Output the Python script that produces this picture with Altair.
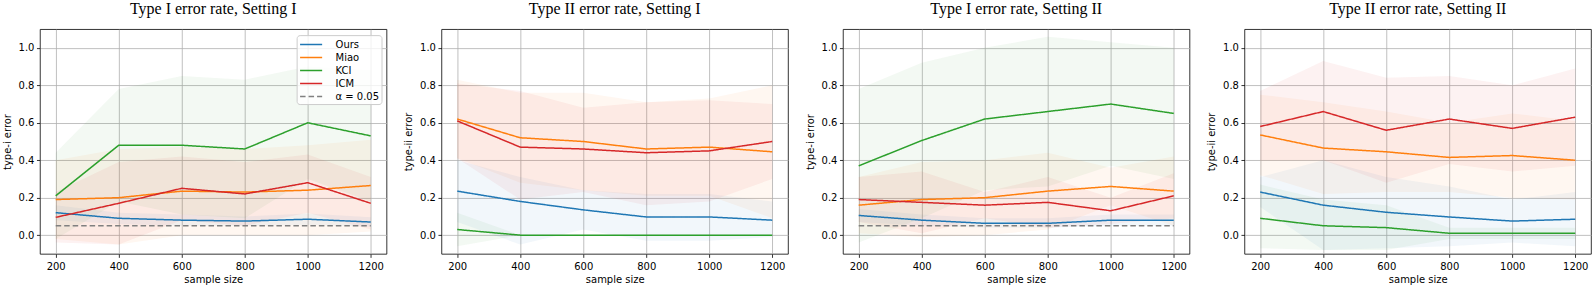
import altair as alt
import pandas as pd

sizes = [200, 400, 600, 800, 1000, 1200]
methods = ["Ours", "Miao", "KCI", "ICM"]
alpha_label = "α = 0.05"
alpha_level = 0.05
legend_domain = methods + [alpha_label]
colors = ["#1f77b4", "#ff7f0e", "#2ca02c", "#d62728", "#808080"]
dashes = [[1, 0], [1, 0], [1, 0], [1, 0], [5.5, 3]]
y_ticks = [0.0, 0.2, 0.4, 0.6, 0.8, 1.0]

titles = ["Type I error rate, Setting I", "Type II error rate, Setting I",
          "Type I error rate, Setting II", "Type II error rate, Setting II"]
ylabels = ["type-i error", "type-ii error", "type-i error", "type-ii error"]
show_alpha = [True, False, True, False]

p1_mean = {"Ours": [0.12, 0.09, 0.08, 0.075, 0.085, 0.07],
           "Miao": [0.19, 0.20, 0.235, 0.23, 0.24, 0.265],
           "KCI": [0.21, 0.48, 0.48, 0.46, 0.60, 0.53],
           "ICM": [0.095, 0.17, 0.25, 0.22, 0.28, 0.17]}
p1_lo = {"Ours": [0.08, 0.06, 0.05, 0.05, 0.055, 0.045],
         "Miao": [-0.02, -0.05, 0.0, 0.0, 0.0, 0.02],
         "KCI": [-0.02, 0.18, 0.11, 0.09, 0.30, 0.18],
         "ICM": [-0.04, -0.05, 0.08, 0.05, 0.12, 0.03]}
p1_hi = {"Ours": [0.16, 0.12, 0.11, 0.10, 0.115, 0.095],
         "Miao": [0.40, 0.46, 0.47, 0.46, 0.48, 0.51],
         "KCI": [0.44, 0.78, 0.85, 0.83, 0.90, 0.88],
         "ICM": [0.23, 0.39, 0.42, 0.39, 0.43, 0.31]}

p2_mean = {"Ours": [0.235, 0.18, 0.135, 0.097, 0.097, 0.08],
           "Miao": [0.62, 0.52, 0.50, 0.46, 0.47, 0.445],
           "KCI": [0.03, 0.0, 0.0, 0.0, 0.0, 0.0],
           "ICM": [0.61, 0.47, 0.46, 0.44, 0.45, 0.50]}
p2_lo = {"Ours": [0.07, -0.05, 0.03, -0.03, -0.03, -0.01],
         "Miao": [0.41, 0.28, 0.24, 0.21, 0.21, 0.09],
         "KCI": [-0.06, 0.0, 0.0, 0.0, 0.0, 0.0],
         "ICM": [0.41, 0.19, 0.23, 0.16, 0.18, 0.30]}
p2_hi = {"Ours": [0.40, 0.31, 0.24, 0.22, 0.22, 0.18],
         "Miao": [0.83, 0.76, 0.76, 0.71, 0.73, 0.80],
         "KCI": [0.12, 0.0, 0.0, 0.0, 0.0, 0.0],
         "ICM": [0.81, 0.77, 0.68, 0.71, 0.72, 0.70]}

p3_mean = {"Ours": [0.105, 0.08, 0.063, 0.063, 0.08, 0.08],
           "Miao": [0.16, 0.19, 0.20, 0.235, 0.26, 0.235],
           "KCI": [0.37, 0.505, 0.62, 0.66, 0.70, 0.65],
           "ICM": [0.19, 0.175, 0.16, 0.175, 0.13, 0.21]}
p3_lo = {"Ours": [0.07, 0.05, 0.04, 0.04, 0.05, 0.05],
         "Miao": [0.01, -0.01, 0.0, 0.03, 0.16, 0.05],
         "KCI": [-0.04, 0.09, 0.24, 0.26, 0.37, 0.30],
         "ICM": [0.07, 0.01, 0.09, 0.04, 0.06, 0.09]}
p3_hi = {"Ours": [0.14, 0.11, 0.09, 0.09, 0.11, 0.11],
         "Miao": [0.31, 0.39, 0.40, 0.44, 0.36, 0.42],
         "KCI": [0.78, 0.92, 1.0, 1.06, 1.03, 1.0],
         "ICM": [0.31, 0.34, 0.23, 0.31, 0.20, 0.33]}

p4_mean = {"Ours": [0.23, 0.16, 0.122, 0.097, 0.075, 0.085],
           "Miao": [0.535, 0.465, 0.445, 0.415, 0.425, 0.40],
           "KCI": [0.09, 0.05, 0.04, 0.01, 0.01, 0.01],
           "ICM": [0.58, 0.66, 0.56, 0.62, 0.57, 0.63]}
p4_lo = {"Ours": [0.15, -0.08, -0.07, -0.06, -0.04, -0.06],
         "Miao": [0.32, 0.22, 0.23, 0.23, 0.20, 0.19],
         "KCI": [-0.07, -0.08, -0.08, -0.02, -0.02, -0.02],
         "ICM": [0.40, 0.40, 0.28, 0.38, 0.34, 0.37]}
p4_hi = {"Ours": [0.31, 0.40, 0.31, 0.26, 0.19, 0.23],
         "Miao": [0.75, 0.71, 0.66, 0.60, 0.65, 0.61],
         "KCI": [0.27, 0.19, 0.16, 0.04, 0.04, 0.04],
         "ICM": [0.77, 0.93, 0.84, 0.85, 0.80, 0.89]}

all_means = [p1_mean, p2_mean, p3_mean, p4_mean]
all_lo = [p1_lo, p2_lo, p3_lo, p4_lo]
all_hi = [p1_hi, p2_hi, p3_hi, p4_hi]

FONT = "DejaVu Sans"

legend_spec = alt.Legend(title=None, orient="top-right", offset=5.5,
                         symbolType="M-1.7,0H1.7", symbolSize=169,
                         symbolOffset=5, symbolStrokeWidth=1.5, symbolOpacity=1,
                         labelOffset=17, labelAlign="left",
                         rowPadding=0, padding=2, strokeColor="#cccccc",
                         fillColor="rgba(255,255,255,0.8)", cornerRadius=3,
                         labelFont=FONT, labelFontSize=10, labelColor="black",
                         labelLimit=200)


def make_panel(k):
    band_rows, line_rows = [], []
    for m in methods:
        for i, s in enumerate(sizes):
            band_rows.append({"size": s, "method": m,
                              "lo": all_lo[k][m][i], "hi": all_hi[k][m][i]})
            line_rows.append({"size": s, "method": m, "val": all_means[k][m][i]})
    if show_alpha[k]:
        for s in sizes:
            line_rows.append({"size": s, "method": alpha_label, "val": alpha_level})
    bdf = pd.DataFrame(band_rows)
    ldf = pd.DataFrame(line_rows)

    xenc = alt.X("size:Q",
                 scale=alt.Scale(domain=[150, 1250], nice=False, zero=False),
                 axis=alt.Axis(values=sizes, format="d", title="sample size"))
    yscale = alt.Scale(domain=[-0.1, 1.1], nice=False, zero=False)
    yaxis = alt.Axis(values=y_ticks, format=".1f", title=ylabels[k])
    cscale = alt.Scale(domain=legend_domain, range=colors)
    dscale = alt.Scale(domain=legend_domain, range=dashes)
    leg = legend_spec if k == 0 else None

    bands = alt.Chart(bdf).mark_area(fillOpacity=0.06).encode(
        x=xenc,
        y=alt.Y("lo:Q", scale=yscale, axis=yaxis),
        y2="hi:Q",
        color=alt.Color("method:N", scale=cscale, legend=leg),
    )
    lines = alt.Chart(ldf).mark_line(strokeWidth=1.5).encode(
        x=xenc,
        y=alt.Y("val:Q", scale=yscale, axis=yaxis),
        color=alt.Color("method:N", scale=cscale, legend=leg),
        strokeDash=alt.StrokeDash("method:N", scale=dscale, legend=leg),
    )
    return alt.layer(bands, lines).properties(
        width=347, height=225,
        title=alt.Title(titles[k], font="Liberation Serif", fontSize=16,
                        fontWeight="normal", color="black",
                        offset=12, anchor="middle"),
    )


chart = alt.hconcat(*[make_panel(k) for k in range(4)], spacing=15).resolve_scale(
    color="independent", strokeDash="independent"
).properties(
    padding={"left": 1, "top": 0, "right": 0, "bottom": 0}
).configure_view(
    stroke="black", strokeWidth=0.8
).configure_axis(
    domain=False, tickColor="black", tickSize=3.5, tickWidth=0.8,
    grid=True, gridColor="#b0b0b0", gridWidth=0.8,
    labelFont=FONT, labelFontSize=10, labelColor="black",
    titleFont=FONT, titleFontSize=10, titleFontWeight="normal", titleColor="black",
    labelPadding=3
).configure_axisX(titlePadding=3, labelPadding=4).configure_axisY(titlePadding=6, labelPadding=2.5)

chart.save("out.html", embed_options={"renderer": "svg", "actions": False})
